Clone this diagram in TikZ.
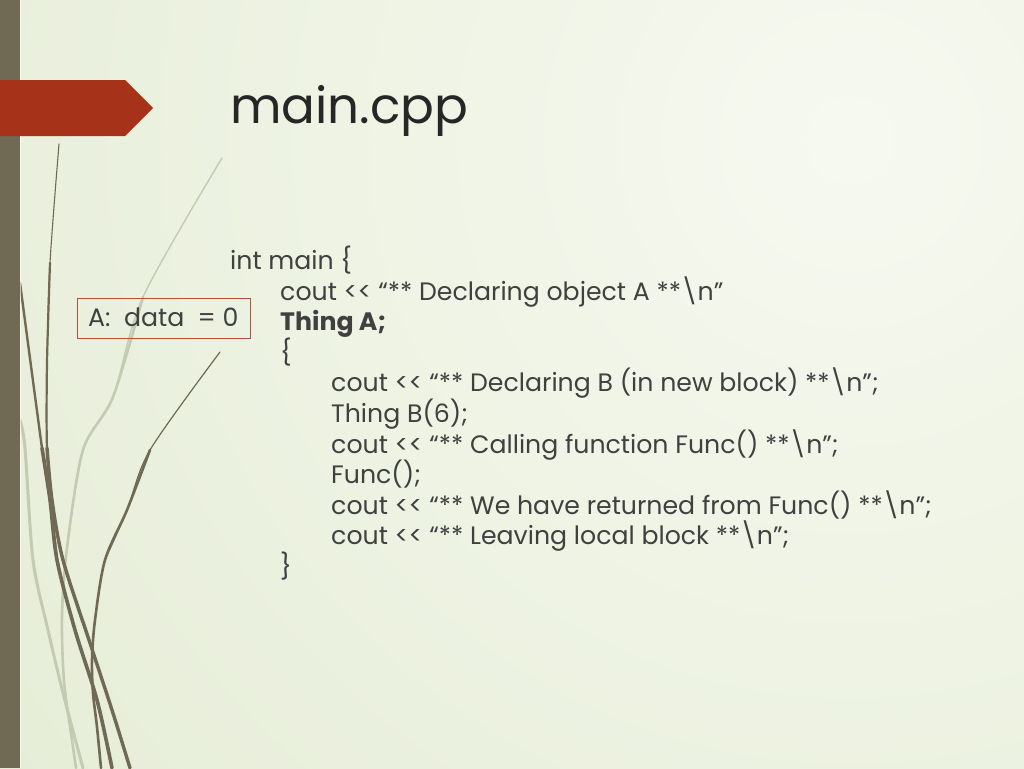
\documentclass[tikz,border=0pt]{standalone}
\usepackage{fontspec}
\setmainfont{Poppins}
\newcommand\shiftout{<\kern0pt<}
\definecolor{bgA}{RGB}{246,249,240}
\definecolor{bgB}{RGB}{214,225,190}
\definecolor{barcol}{RGB}{112,106,84}
\definecolor{arrowred}{RGB}{166,50,25}
\definecolor{boxred}{RGB}{180,80,60}
\definecolor{codegray}{RGB}{64,64,64}
\definecolor{titlegray}{RGB}{38,38,38}
\definecolor{darkline}{RGB}{112,106,84}
\definecolor{faintline}{RGB}{196,203,178}
\begin{document}
\begin{tikzpicture}[x=1pt,y=-1pt,
  codeline/.style={anchor=base west, inner sep=0pt, text=codegray, font=\fontsize{25.2}{30}\selectfont},
  titletext/.style={anchor=base west, inner sep=0pt, text=titlegray, font=\fontsize{50}{60}\selectfont},
  databox/.style={draw=boxred, line width=1pt, minimum width=173pt, minimum height=40pt, inner sep=0pt},
  deco/.style={line cap=round}]
\useasboundingbox (0,0) rectangle (1024,768);
% background
\begin{scope}
  \clip (0,0) rectangle (1024,768);
  \shade[inner color=bgA, outer color=bgB] (850,140) circle (2100);
\end{scope}
% faint decorative lines
\draw[deco, faintline, line width=1.4pt] plot[smooth] coordinates {(222,158) (143,297) (113,397) (83,450) (67,548)};
\draw[deco, faintline, line width=2.6pt] plot[smooth] coordinates {(143,297) (113,397) (83,450) (67,548) (62,615) (64,681) (72,740) (76,768)};
\draw[deco, faintline, line width=3pt] plot[smooth] coordinates {(20,420) (25,448) (33,560) (48,630) (63,693) (83,768)};
% dark decorative lines
\draw[deco, darkline, line width=1.1pt] plot[smooth] coordinates {(59,144) (50,263) (47,363) (47,448) (52,500)};
\draw[deco, darkline, line width=2.2pt] plot[smooth] coordinates {(50,263) (47,363) (47,448) (52,500) (63,560) (90,643)};
\draw[deco, darkline, line width=3.4pt] plot[smooth] coordinates {(47,448) (52,500) (63,560) (90,643) (112,710) (130,768)};
\draw[deco, darkline, line width=2.4pt] plot[smooth] coordinates {(20,283) (42,448) (50,500) (57,560)};
\draw[deco, darkline, line width=3.6pt] plot[smooth] coordinates {(42,448) (50,500) (57,560) (75,630) (97,700) (112,768)};
\draw[deco, darkline, line width=1.2pt] plot[smooth] coordinates {(220,352) (150,450) (127,510) (105,560)};
\draw[deco, darkline, line width=2.6pt] plot[smooth] coordinates {(150,450) (127,510) (105,560) (95,620) (92,660) (93,693) (97,727) (101,768)};
% left bar
\fill[barcol] (0,0) rectangle (20,768);
\draw[white, opacity=0.6, line width=0.8pt] (20.6,0) -- (20.6,768);
% red arrow
\fill[arrowred] (0,80) -- (125,80) -- (153,108) -- (125,136) -- (0,136) -- cycle;
% title
\node[titletext] (title) at (230,123) {main.cpp};
% code
\node[codeline] (l1) at (230,269) {int main \{};
\node[codeline] (l2) at (280,300) {cout \shiftout{} “** Declaring object A **\textbackslash n”};
\node[codeline] (l3) at (280,330.5) {\textbf{Thing A;}};
\node[codeline] (l4) at (280,361) {\{};
\node[codeline] (l5) at (331,391.5) {cout \shiftout{} “** Declaring B (in new block) **\textbackslash n”;};
\node[codeline] (l6) at (331,422) {Thing B(6);};
\node[codeline] (l7) at (331,453) {cout \shiftout{} “** Calling function Func() **\textbackslash n”;};
\node[codeline] (l8) at (331,483.5) {Func();};
\node[codeline] (l9) at (331,514) {cout \shiftout{} “** We have returned from Func() **\textbackslash n”;};
\node[codeline] (l10) at (331,544.5) {cout \shiftout{} “** Leaving local block **\textbackslash n”;};
\node[codeline] (l11) at (280,575) {\}};
% box
\node[databox, anchor=north west] (box) at (77,298) {};
\node[codeline] (boxtext) at (88,326) {A:\ \ data\ \ = 0};
\end{tikzpicture}
\end{document}
